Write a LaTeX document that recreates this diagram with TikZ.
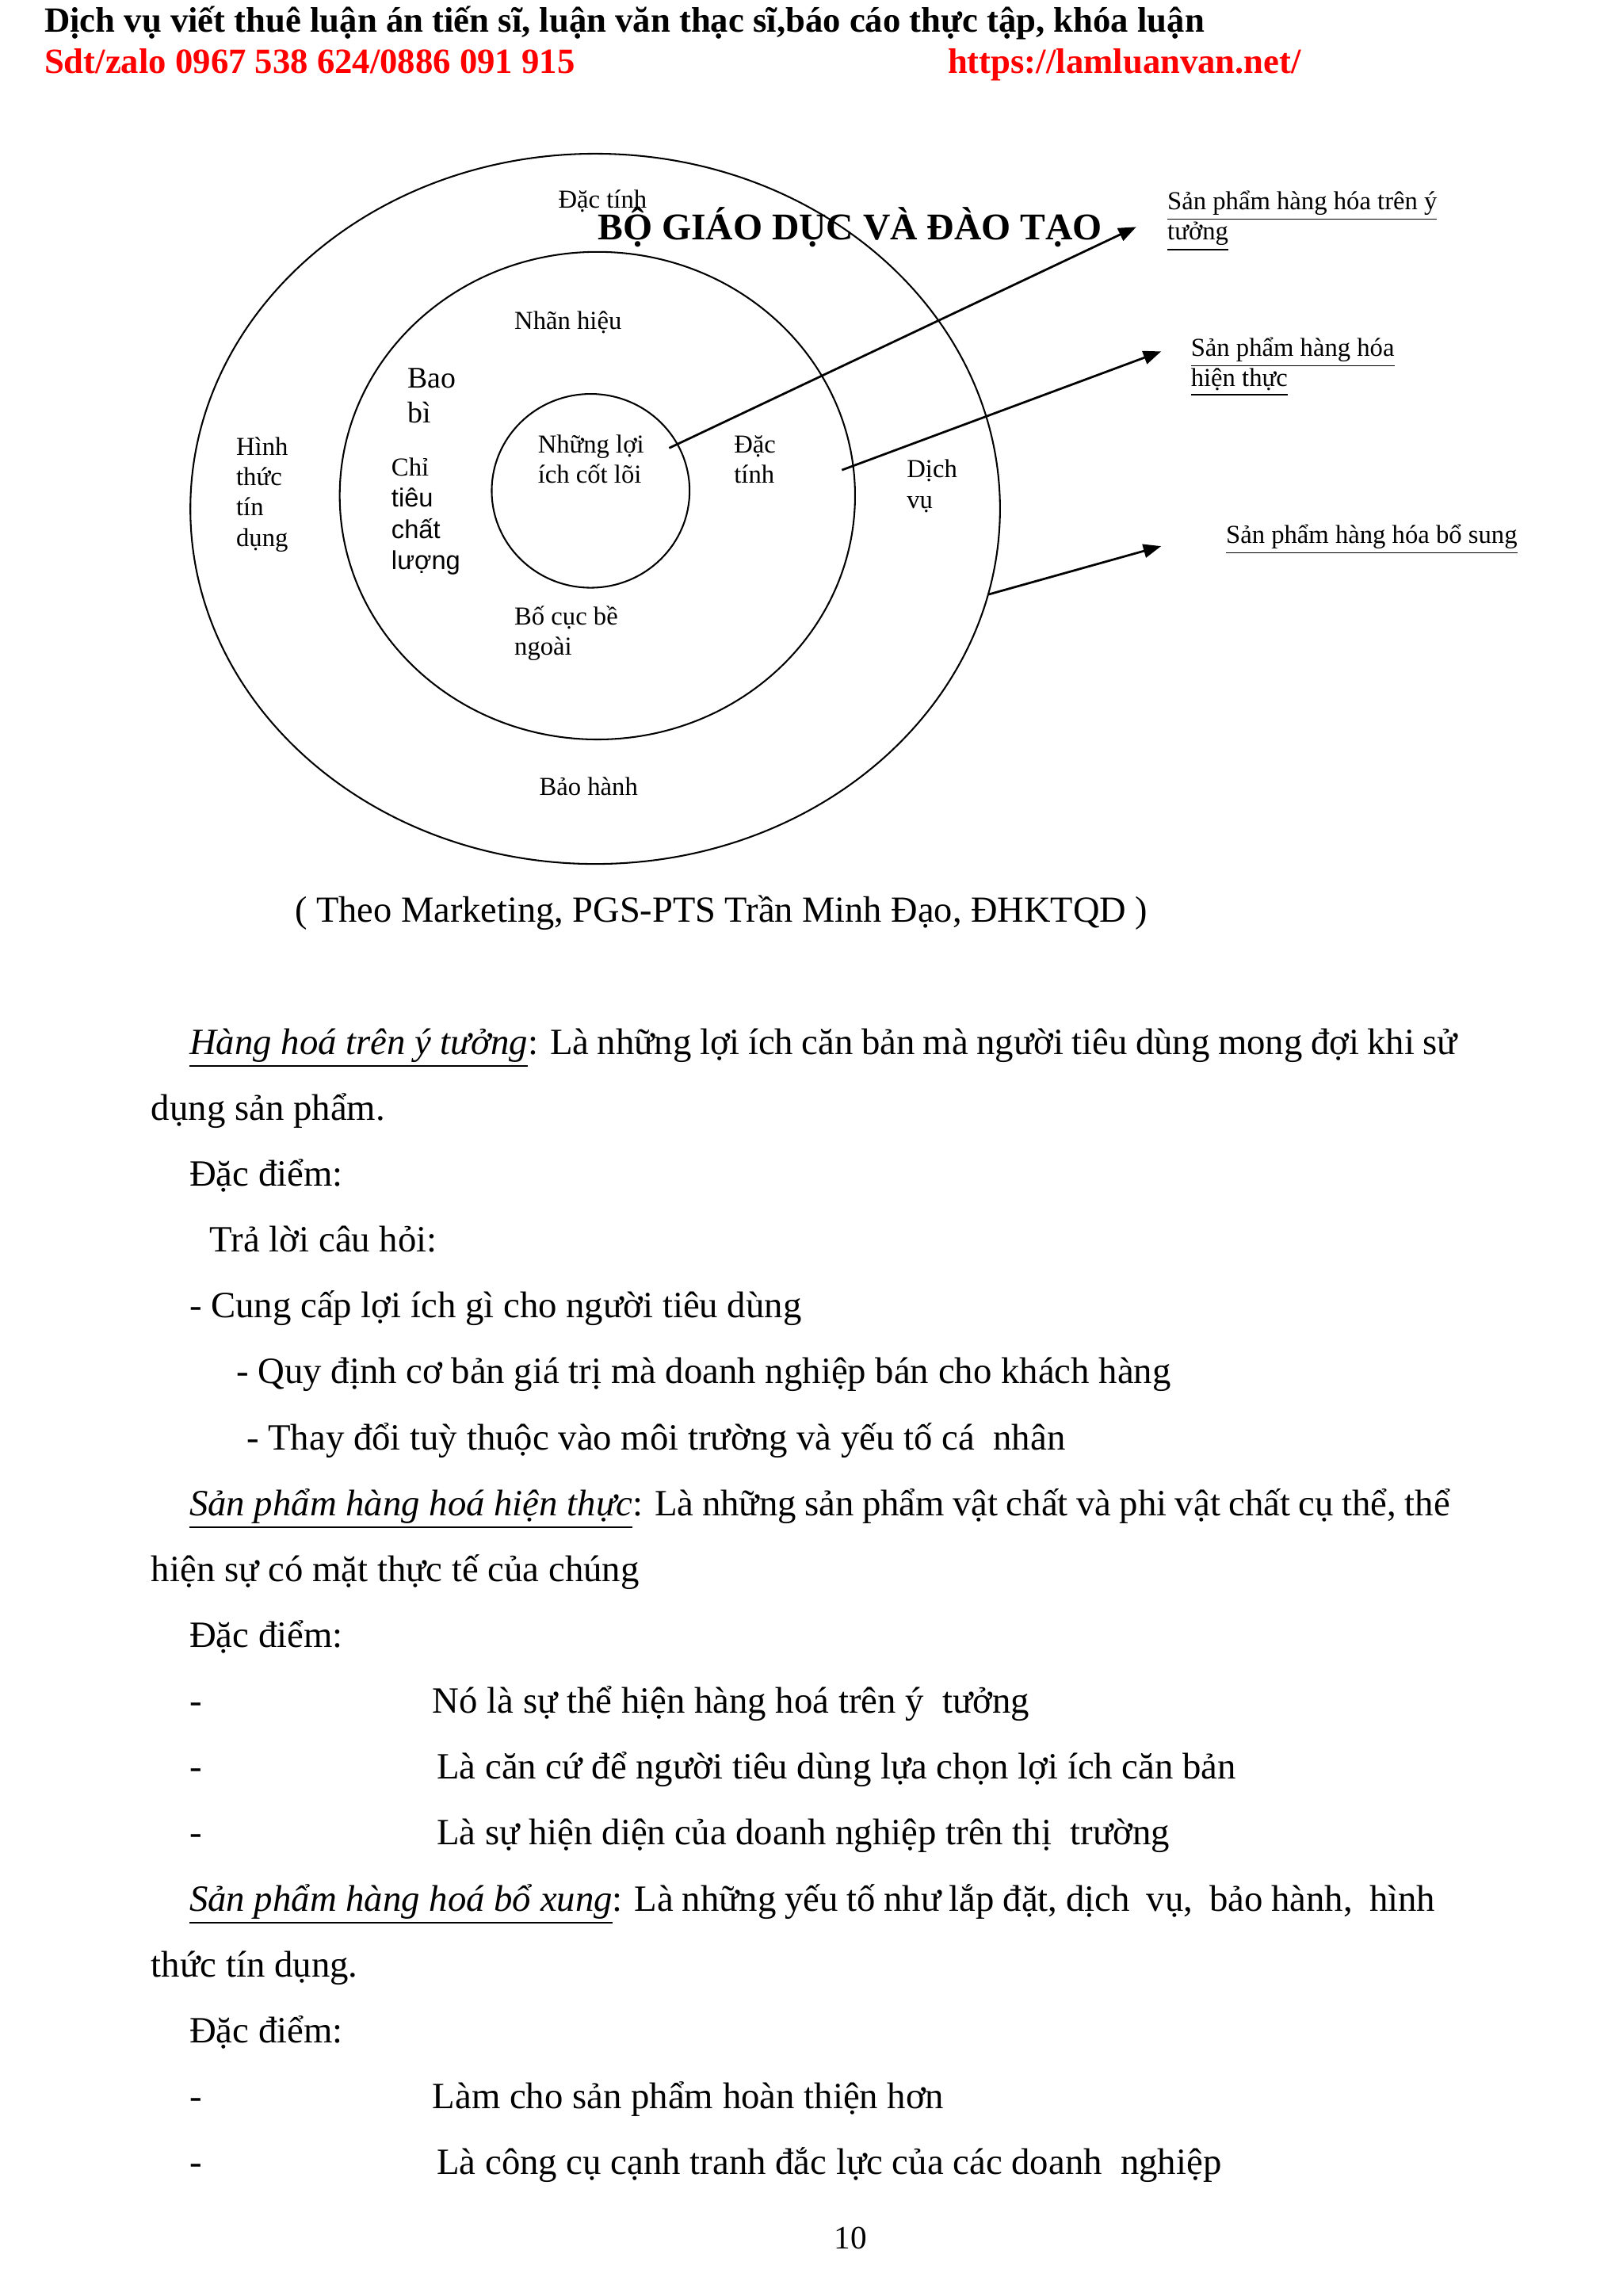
\documentclass[tikz,border=0pt]{standalone}
\usepackage{fontspec}
\setmainfont{Liberation Serif}
\setsansfont{Liberation Sans}
\usetikzlibrary{shapes.geometric, arrows.meta, positioning}

\newcommand{\ulit}[1]{\underline{\textit{#1}}}

\begin{document}
\begin{tikzpicture}[
  x=0.53727pt, y=-0.53727pt,
  ring/.style={draw, ellipse, inner sep=0pt, outer sep=0pt, line width=0.6pt},
  lbl/.style={font=\fontsize{9.5}{11.1}\selectfont, align=left, anchor=base west, inner sep=0pt},
  body/.style={font=\fontsize{13.6}{16}\selectfont, anchor=base west, inner sep=0pt},
  head/.style={font=\fontsize{13}{15}\selectfont\bfseries, anchor=base west, inner sep=0pt},
  arr/.style={-{Triangle[length=6.5pt, width=5pt]}, line width=0.8pt}
]
  \fill[white] (0,0) rectangle (1108,1568);
  \useasboundingbox (0,0) rectangle (1108,1568);

  % Header
  \node[head] (head1) at (30,22) {Dịch vụ viết thuê luận án tiến sĩ, luận văn thạc sĩ,báo cáo thực tập, khóa luận};
  \node[head, text=red] (phone) at (30,50) {Sdt/zalo 0967 538 624/0886 091 915};
  \node[head, text=red] (web) at (647,50) {https://lamluanvan.net/};

  % Rings
  \node[ring, minimum width=297.1pt, minimum height=260.6pt] (outer) at (406.5,347.5) {};
  \node[ring, minimum width=189.1pt, minimum height=178.9pt] (middle) at (408,338.5) {};
  \node[ring, minimum width=72.6pt, minimum height=71.1pt] (core) at (403.4,335.2) {};

  % Ring labels
  \node[lbl] (outerfeat) at (381,142) {Đặc tính};
  \node[font=\fontsize{13.85}{16}\selectfont\bfseries, anchor=base west, inner sep=0pt] (ministry) at (408,164) {BỘ GIÁO DỤC VÀ ĐÀO TẠO};
  \node[lbl] (brand) at (351,225) {Nhãn hiệu};
  \node[lbl, font=\fontsize{11}{12.9}\selectfont] (pack) at (278,289) {Bao\\bì};
  \node[lbl] (credit) at (161,373) {Hình\\thức\\tín\\dụng};
  \node[lbl, font=\fontsize{9.5}{11.5}\selectfont] (quality) at (267,389) {Chỉ\\\sffamily tiêu\\\sffamily chất\\\sffamily lượng};
  \node[lbl] (benefit) at (367,330) {Những lợi\\ích cốt lõi};
  \node[lbl] (feat) at (501,330) {Đặc\\tính};
  \node[lbl] (service) at (619,347) {Dịch\\vụ};
  \node[lbl] (layout) at (351,447.5) {Bố cục bề\\ngoài};
  \node[lbl] (warranty) at (368,543) {Bảo hành};

  % Levels
  \node[lbl] (idea) at (797,164) {\underline{Sản phẩm hàng hóa trên ý}\\\underline{tưởng}};
  \node[lbl] (real) at (813,264) {\underline{Sản phẩm hàng hóa}\\\underline{hiện thực}};
  \node[lbl] (extra) at (837,371) {\underline{Sản phẩm hàng hóa bổ sung}};

  % Arrows
  \coordinate (coreout) at (457,306);
  \coordinate (ideatip) at (776,155);
  \coordinate (featout) at (575,321);
  \coordinate (realtip) at (793,240);
  \coordinate (servout) at (675,406);
  \coordinate (extratip) at (793,373);
  \draw[arr] (coreout) -- (ideatip);
  \draw[arr] (featout) -- (realtip);
  \draw[arr] (servout) -- (extratip);

  % Caption
  \node[body, font=\fontsize{13.5}{16}\selectfont] (source) at (201,630) {( Theo Marketing, PGS-PTS Trần Minh Đạo, ĐHKTQD )};

  % Body text
  \node[body] (l1) at (129,720) {\makebox[465.3pt][s]{\ulit{Hàng hoá trên ý tưởng}: Là những lợi ích căn bản mà người tiêu dùng mong đợi khi sử}};
  \node[body] (l2) at (103,765) {dụng sản phẩm.};
  \node[body] (l3) at (129,810) {Đặc điểm:};
  \node[body] (l4) at (143,855) {Trả lời câu hỏi:};
  \node[body] (l5) at (129,900) {- Cung cấp lợi ích gì cho người tiêu dùng};
  \node[body] (l6) at (161,945) {- Quy định cơ bản giá trị mà doanh nghiệp bán cho khách hàng};
  \node[body] (l7) at (168,990) {- Thay đổi tuỳ thuộc vào môi trường và yếu tố cá\ \ nhân};
  \node[body] (l8) at (129,1035) {\makebox[462.6pt][s]{\ulit{Sản phẩm hàng hoá hiện thực}: Là những sản phẩm vật chất và phi vật chất cụ thể, thể}};
  \node[body] (l9) at (103,1080) {hiện sự có mặt thực tế của chúng};
  \node[body] (l10) at (129,1125) {Đặc điểm:};
  \node[body] (d11) at (129,1170) {-};
  \node[body] (l11) at (295,1170) {Nó là sự thể hiện hàng hoá trên ý\ \ tưởng};
  \node[body] (d12) at (129,1215) {-};
  \node[body] (l12) at (298,1215) {Là căn cứ để người tiêu dùng lựa chọn lợi ích căn bản};
  \node[body] (d13) at (129,1260) {-};
  \node[body] (l13) at (298,1260) {Là sự hiện diện của doanh nghiệp trên thị\ \ trường};
  \node[body] (l14) at (129,1305) {\makebox[457.2pt][s]{\ulit{Sản phẩm hàng hoá bổ xung}: Là những yếu tố như lắp đặt, dịch\ \ vụ,\ \ bảo hành,\ \ hình}};
  \node[body] (l15) at (103,1350) {thức tín dụng.};
  \node[body] (l16) at (129,1395) {Đặc điểm:};
  \node[body] (d17) at (129,1440) {-};
  \node[body] (l17) at (295,1440) {Làm cho sản phẩm hoàn thiện hơn};
  \node[body] (d18) at (129,1485) {-};
  \node[body] (l18) at (298,1485) {Là công cụ cạnh tranh đắc lực của các doanh\ \ nghiệp};

  % Page number
  \node[font=\fontsize{12}{14}\selectfont, anchor=base, inner sep=0pt] (page) at (581,1536) {10};
\end{tikzpicture}
\end{document}
